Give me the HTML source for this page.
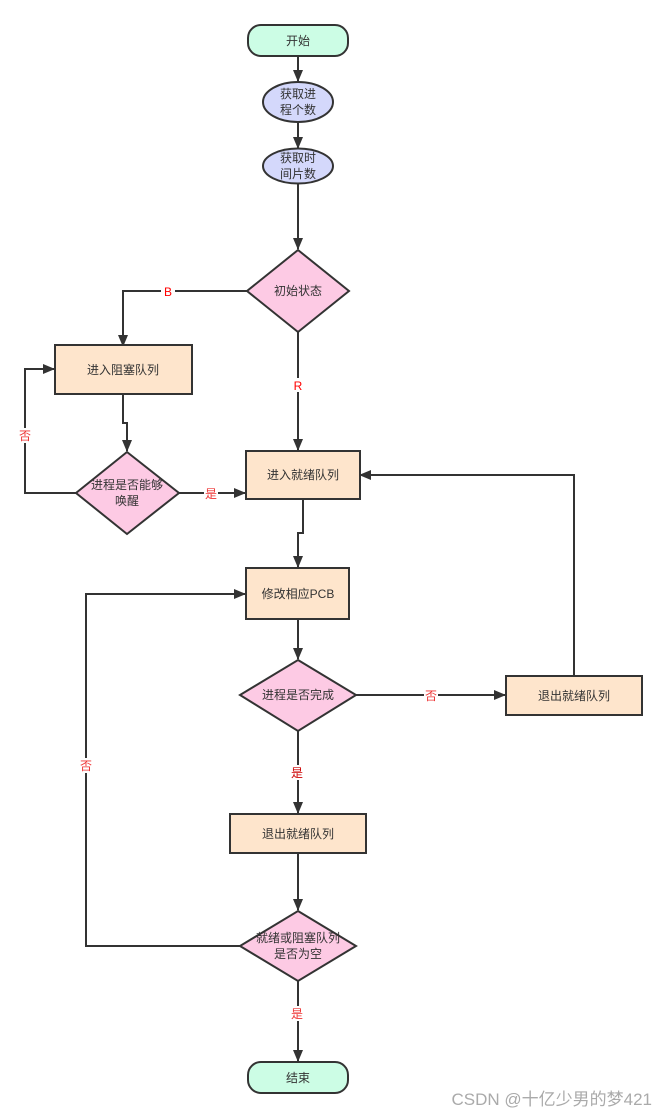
<!DOCTYPE html>
<html><head><meta charset="utf-8"><style>
html,body{margin:0;padding:0;background:#fff;}
svg{display:block;}
text{font-family:"Liberation Sans","Noto Sans CJK SC",sans-serif;}
</style></head><body>
<svg width="667" height="1118" viewBox="0 0 667 1118" xmlns="http://www.w3.org/2000/svg">
<defs>
<marker id="a" markerWidth="12" markerHeight="10" refX="11" refY="5" orient="auto" markerUnits="userSpaceOnUse">
<path d="M0,0 L12,5 L0,10 z" fill="#333"/></marker>
</defs>
<g fill="none" stroke="#333" stroke-width="2">
<!-- main vertical -->
<path d="M298,56 V81" marker-end="url(#a)"/>
<path d="M298,123 V148" marker-end="url(#a)"/>
<path d="M298,184 V249" marker-end="url(#a)"/>
<path d="M298,332 V450" marker-end="url(#a)"/>
<path d="M247,291 H123 V346" marker-end="url(#a)"/>
<path d="M123,394 V423 H127 V451" marker-end="url(#a)"/>
<path d="M76,493 H25 V369 H54" marker-end="url(#a)"/>
<path d="M179,493 H245" marker-end="url(#a)"/>
<path d="M303,499 V533 H298 V567" marker-end="url(#a)"/>
<path d="M298,619 V659" marker-end="url(#a)"/>
<path d="M356,695 H505" marker-end="url(#a)"/>
<path d="M574,676 V475 H360" marker-end="url(#a)"/>
<path d="M298,731 V813" marker-end="url(#a)"/>
<path d="M298,853 V910" marker-end="url(#a)"/>
<path d="M240,946 H86 V594 H245" marker-end="url(#a)"/>
<path d="M298,981 V1061" marker-end="url(#a)"/>
</g>
<g stroke="#333" stroke-width="2">
<rect x="248" y="25" width="100" height="31" rx="13" fill="#ccfde5"/>
<ellipse cx="298" cy="102" rx="35" ry="20" fill="#d4d8fb"/>
<ellipse cx="298" cy="166" rx="35" ry="17.5" fill="#d4d8fb"/>
<path d="M298,250 L349,291 L298,332 L247,291 z" fill="#fdcae4"/>
<rect x="55" y="345" width="137" height="49" fill="#fee5cc"/>
<path d="M127,452 L179,493 L127,534 L76,493 z" fill="#fdcae4"/>
<rect x="246" y="451" width="114" height="48" fill="#fee5cc"/>
<rect x="246" y="568" width="103" height="51" fill="#fee5cc"/>
<path d="M298,660 L356,695 L298,731 L240,695 z" fill="#fdcae4"/>
<rect x="506" y="676" width="136" height="39" fill="#fee5cc"/>
<rect x="230" y="814" width="136" height="39" fill="#fee5cc"/>
<path d="M298,911 L356,946 L298,981 L240,946 z" fill="#fdcae4"/>
<rect x="248" y="1062" width="100" height="31" rx="13" fill="#ccfde5"/>
</g>
<g font-size="12" fill="#333" text-anchor="middle">
<text x="298" y="45">开始</text>
<text x="298" y="98">获取进</text><text x="298" y="114">程个数</text>
<text x="298" y="162">获取时</text><text x="298" y="178">间片数</text>
<text x="298" y="295">初始状态</text>
<text x="123" y="374">进入阻塞队列</text>
<text x="127" y="489">进程是否能够</text><text x="127" y="505">唤醒</text>
<text x="303" y="479">进入就绪队列</text>
<text x="298" y="598">修改相应PCB</text>
<text x="298" y="699">进程是否完成</text>
<text x="574" y="700">退出就绪队列</text>
<text x="298" y="838">退出就绪队列</text>
<text x="298" y="942">就绪或阻塞队列</text><text x="298" y="958">是否为空</text>
<text x="298" y="1082">结束</text>
</g>
<g font-size="12" text-anchor="middle">
<rect x="161" y="284" width="14" height="14" fill="#fff"/>
<text x="168" y="296" fill="#f00">B</text>
<rect x="291" y="378" width="14" height="14" fill="#fff"/>
<text x="298" y="390" fill="#f00">R</text>
<rect x="18" y="428" width="14" height="15" fill="#fff"/>
<text x="25" y="440" fill="#e33">否</text>
<rect x="204" y="486" width="14" height="15" fill="#fff"/>
<text x="211" y="498" fill="#e33">是</text>
<rect x="424" y="688" width="14" height="15" fill="#fff"/>
<text x="431" y="700" fill="#e33">否</text>
<rect x="290" y="765" width="14" height="15" fill="#fff"/>
<text x="297" y="777" fill="#c00">是</text>
<rect x="79" y="758" width="14" height="15" fill="#fff"/>
<text x="86" y="770" fill="#e33">否</text>
<rect x="290" y="1006" width="14" height="15" fill="#fff"/>
<text x="297" y="1018" fill="#e33">是</text>
</g>
<text x="652" y="1105" font-size="17" fill="#aaa" text-anchor="end">CSDN @十亿少男的梦421</text>
</svg>
</body></html>
